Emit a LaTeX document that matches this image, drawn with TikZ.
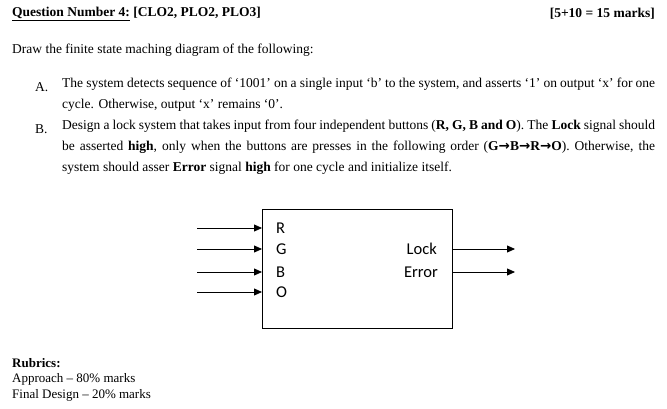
\documentclass[tikz,border=0pt]{standalone}
\usepackage{fontspec}
\setmainfont{Liberation Serif}
\newfontfamily\diagfont{Carlito}
\newfontfamily\arrfont{DejaVu Sans}
\newcommand{\seqarr}{{\arrfont\bfseries →}}
\usetikzlibrary{arrows.meta}
\tikzset{
  para/.style={anchor=north west, inner sep=0pt, text width=#1, align=justify,
    font=\fontsize{13.5}{21}\selectfont},
  sig/.style={line width=0.8pt, -{Triangle[length=8pt,width=7pt]}},
  lbl/.style={inner sep=0pt, font=\diagfont\fontsize{16.5}{18}\selectfont},
}
\begin{document}
\begin{tikzpicture}[x=1pt,y=-1pt]
  \useasboundingbox (0,0) rectangle (667,409);
  % header
  \node[anchor=west, inner sep=0pt, font=\fontsize{13.5}{15}\selectfont\bfseries] (head) at (12,14)
    {\underline{Question Number 4:} [CLO2, PLO2, PLO3]};
  \node[anchor=east, inner sep=0pt, font=\fontsize{13.5}{15}\selectfont\bfseries] (marks) at (655,14)
    {[5+10 = 15 marks]};
  \node[anchor=west, inner sep=0pt, font=\fontsize{13.5}{15}\selectfont] (task) at (12,50)
    {Draw the finite state maching diagram of the following:};
  % items
  \node[anchor=west, inner sep=0pt, font=\fontsize{13.5}{15}\selectfont] (ia) at (35,87) {A.};
  \node[para=593pt] (pa) at (62,78)
    {The system detects sequence of `1001' on a single input `b' to the system, and asserts `1' on output `x' for one cycle. Otherwise, output `x' remains `0'.};
  \node[anchor=west, inner sep=0pt, font=\fontsize{13.5}{15}\selectfont] (ib) at (35,129) {B.};
  \node[para=593pt] (pb) at (62,120)
    {Design a lock system that takes input from four independent buttons (\textbf{R, G, B and O}). The \textbf{Lock} signal should be asserted \textbf{high}, only when the buttons are presses in the following order (\textbf{G\seqarr B\seqarr R\seqarr O}). Otherwise, the system should asser \textbf{Error} signal \textbf{high} for one cycle and initialize itself.};
  % block
  \draw[line width=0.8pt] (262,209) rectangle (452,328);
  \node[lbl, anchor=west] (R) at (276,228) {R};
  \node[lbl, anchor=west] (G) at (276,249) {G};
  \node[lbl, anchor=west] (B) at (276,272) {B};
  \node[lbl, anchor=west] (O) at (276,292) {O};
  \node[lbl, anchor=east] (lock) at (437,249) {Lock};
  \node[lbl, anchor=east] (err) at (438,272) {Error};
  \foreach \n/\y in {R/228,G/249,B/272,O/292}
    \draw[sig] (197,\y) -- (262,\y);
  \foreach \n/\y in {lock/249,err/272}
    \draw[sig] (452,\y) -- (515,\y);
  % rubrics
  \node[anchor=north west, inner sep=0pt, align=left, font=\fontsize{13}{15.5}\selectfont] (rub) at (12,358)
    {\textbf{Rubrics:}\\Approach -- 80\% marks\\Final Design -- 20\% marks};
\end{tikzpicture}
\end{document}
